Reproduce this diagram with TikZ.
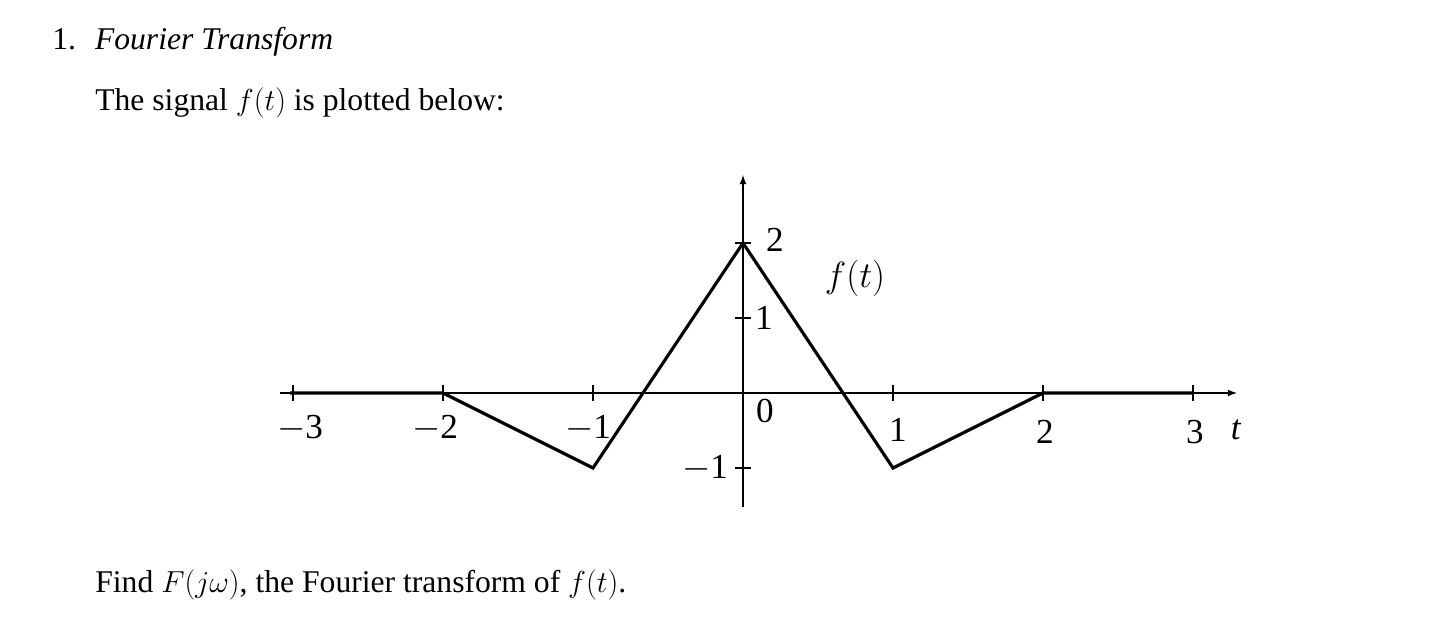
\documentclass[tikz,border=0pt]{standalone}
\usepackage{fontspec}
\setmainfont{Liberation Serif}
\begin{document}
\begin{tikzpicture}[x=0.02cm,y=-0.02cm,
  txt/.style={anchor=west,inner sep=0pt,font=\fontsize{18}{21}\selectfont},
  lab/.style={inner sep=0pt,font=\fontsize{20}{24}\selectfont},
  axis/.style={line width=0.8pt},
  sig/.style={line width=1.8pt,line join=miter}]
\useasboundingbox (0,0) rectangle (1444,625);
\node[txt] (h) at (52,42) {1.\hspace{0.6em}\textit{Fourier Transform}};
\node[txt] (s) at (95,103) {The signal $f(t)$ is plotted below:};
\node[txt] (q) at (95,585) {Find $F(j\omega)$, the Fourier transform of $f(t)$.};
% axes
\coordinate (xl) at (280,393); \coordinate (xr) at (1237,393);
\coordinate (yb) at (743,507); \coordinate (yt) at (743,175);
\draw[axis,-latex] (xl) -- (xr);
\draw[axis,-latex] (yb) -- (yt);
\foreach \x in {293,443,593,893,1043,1193} \draw[axis] (\x,385) -- (\x,401);
\foreach \y in {243,318,468} \draw[axis] (735,\y) -- (751,\y);
% signal
\coordinate (p0) at (290,393); \coordinate (p1) at (443,393);
\coordinate (p2) at (593,468); \coordinate (p3) at (743,243);
\coordinate (p4) at (893,468); \coordinate (p5) at (1043,393);
\coordinate (p6) at (1193,393);
\draw[sig] (p0) -- (p1) -- (p2) -- (p3) -- (p4) -- (p5) -- (p6);
% labels
\node[lab] (lm3) at (300,428) {$-$3};
\node[lab] (lm2) at (435,428) {$-$2};
\node[lab] (lm1) at (588,428) {$-$1};
\node[lab] (l0) at (765,411) {0};
\node[lab] (l1) at (898,430) {1};
\node[lab] (l2) at (1045,432) {2};
\node[lab] (l3) at (1195,432) {3};
\node[lab] (lt) at (1236,430) {\textit{t}};
\node[lab] (y2) at (775,240) {2};
\node[lab] (y1) at (764,318) {1};
\node[lab] (ym1) at (705,468) {$-$1};
\node[lab] (ft) at (855,278) {$f(t)$};
\end{tikzpicture}
\end{document}
